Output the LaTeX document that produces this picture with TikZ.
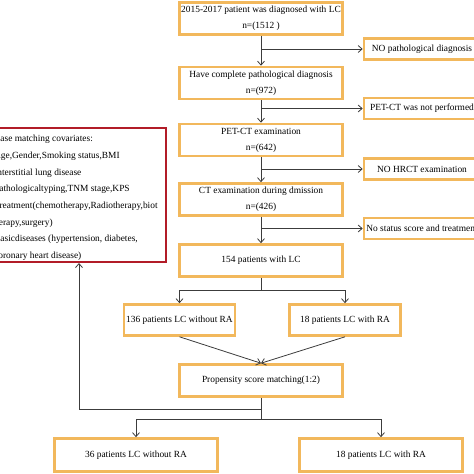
\documentclass[tikz,border=0pt]{standalone}
\usepackage{fontspec}
\setmainfont{Liberation Serif}
\usetikzlibrary{arrows.meta}
\definecolor{boxorange}{RGB}{242,184,92}
\definecolor{boxred}{RGB}{178,28,40}
\definecolor{lineg}{RGB}{60,60,60}
\tikzset{
  mainbox/.style={draw=boxorange, line width=2.6pt, minimum width=163pt, minimum height=32pt, inner sep=0pt, align=center, font=\fontsize{9.4}{16}\selectfont},
  sidebox/.style={draw=boxorange, line width=2.6pt, minimum width=116pt, minimum height=21pt, inner sep=0pt, font=\fontsize{9.4}{11}\selectfont},
  smallbox/.style={draw=boxorange, line width=2.6pt, minimum width=111pt, minimum height=31pt, inner sep=0pt, font=\fontsize{9.4}{11}\selectfont},
  redbox/.style={draw=boxred, line width=2pt, minimum width=174pt, minimum height=134pt, inner sep=0pt},
  redtext/.style={align=left, inner sep=0pt, anchor=north west, font=\fontsize{9.4}{16.7}\selectfont},
  arr/.style={draw=lineg, line width=0.8pt, -{Straight Barb[length=4pt,width=7pt]}},
  ln/.style={draw=lineg, line width=0.8pt}
}
\begin{document}
\begin{tikzpicture}[x=1pt,y=-1pt]
\useasboundingbox (0,0) rectangle (474,474);
\clip (0,0) rectangle (474,474);
% main column
\node[mainbox] (b1) at (261,18.5) {2015-2017 patient was diagnosed with LC\\n=(1512 )};
\node[mainbox] (b2) at (261,83) {Have complete pathological diagnosis\\n=(972)};
\node[mainbox] (b3) at (261,140) {PET-CT examination\\n=(642)};
\node[mainbox] (b4) at (261,199.5) {CT examination during dmission\\n=(426)};
\node[mainbox] (b5) at (261,260.5) {154 patients with LC};
% side boxes
\node[sidebox] (s1) at (422,49) {NO pathological diagnosis};
\node[sidebox] (s2) at (422,108.5) {PET-CT was not performed};
\node[sidebox] (s3) at (422,169) {NO HRCT examination};
\node[sidebox] (s4) at (422,228.5) {No status score and treatment};
% split
\node[smallbox] (b6) at (179.5,320) {136 patients LC without RA};
\node[smallbox] (b7) at (345,320) {18 patients LC with RA};
\node[mainbox] (b8) at (261,380.5) {Propensity score matching(1:2)};
\node[mainbox, minimum height=33pt] (b9) at (136,455) {36 patients LC without RA};
\node[mainbox, minimum height=33pt] (b10) at (381,455) {18 patients LC with RA};
% covariates box
\node[redbox] (red) at (79,195) {};
\node[redtext] (rt) at (-6,135) {Case matching covariates:\\
Age,Gender,Smoking status,BMI\\
Interstitial lung disease\\
Pathologicaltyping,TNM stage,KPS\\
Treatment(chemotherapy,Radiotherapy,biot\\
herapy,surgery)\\
Basicdiseases (hypertension, diabetes,\\
coronary heart disease)};
% junction coordinates
\coordinate (j1) at (261,290);
\coordinate (j2) at (261,419);
\coordinate (j3) at (261,409);
% connectors
\draw[arr] (b1) -- (b2);
\draw[arr] (b2) -- (b3);
\draw[arr] (b3) -- (b4);
\draw[arr] (b4) -- (b5);
\draw[arr] (b1.south |- s1.west) -- (s1.west);
\draw[arr] (b2.south |- s2.west) -- (s2.west);
\draw[arr] (b3.south |- s3.west) -- (s3.west);
\draw[arr] (b4.south |- s4.west) -- (s4.west);
\draw[ln] (b5.south) -- (j1);
\draw[arr] (j1) -| (b6.north);
\draw[arr] (j1) -| (b7.north);
\draw[arr] (b7.south) -- (b8.north);
\draw[arr] (b6.south) -- (b8.north);
\draw[ln] (b8.south) -- (j2);
\draw[arr] (j2) -| (b9.north);
\draw[arr] (j2) -| (b10.north);
\draw[arr] (j3) -| (red.south);
\end{tikzpicture}
\end{document}
